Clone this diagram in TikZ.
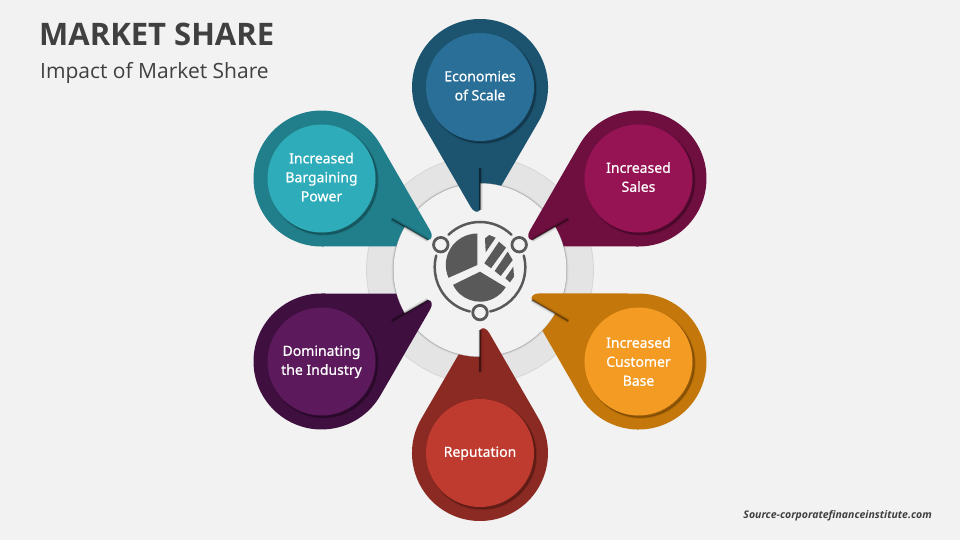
\documentclass[tikz,border=0pt]{standalone}
\usepackage{fontspec}
\setmainfont{Open Sans}
\newfontfamily\badgefont[FakeBold=0.7]{Noto Sans}
\usepackage{tikz}

\definecolor{PaperGray}{HTML}{F2F2F2}
\definecolor{RingGray}{HTML}{E4E4E4}
\definecolor{IconGray}{HTML}{595959}
\definecolor{TitleGray}{HTML}{404040}
\definecolor{BlueDark}{HTML}{1C5470}
\definecolor{BlueLight}{HTML}{296F98}
\definecolor{WineDark}{HTML}{6E0F40}
\definecolor{WineLight}{HTML}{961354}
\definecolor{AmberDark}{HTML}{C4770A}
\definecolor{AmberLight}{HTML}{F49B23}
\definecolor{RedDark}{HTML}{8B2A22}
\definecolor{RedLight}{HTML}{BF3A2F}
\definecolor{PlumDark}{HTML}{3F103F}
\definecolor{PlumLight}{HTML}{5C1A5C}
\definecolor{TealDark}{HTML}{217F8B}
\definecolor{TealLight}{HTML}{2EACB9}

\tikzset{
 softedge/.style={
  preaction={draw=black,fill=black,draw opacity=.05,fill opacity=.05,line width=3pt,transform canvas={shift={(2pt,-2pt)}}},
  preaction={draw=black,fill=black,draw opacity=.08,fill opacity=.08,line width=1.5pt,transform canvas={shift={(2pt,-2pt)}}},
  preaction={draw=black,fill=black,draw opacity=.12,fill opacity=.12,line width=.4pt,transform canvas={shift={(2pt,-2pt)}}}},
 hubedge/.style={
  preaction={draw=black,draw opacity=.05,line width=4pt},
  preaction={draw=black,draw opacity=.1,line width=2pt},
  preaction={draw=black,draw opacity=.14,line width=.8pt}},
 badge/.style={circle,minimum size=108pt,inner sep=0pt,align=center,text=white,softedge,
  font=\badgefont\fontsize{14}{19}\selectfont},
 iconline/.style={draw=IconGray,line width=2.5pt,line cap=round},
 iconknob/.style={circle,draw=IconGray,line width=2.8pt,minimum size=14.5pt,inner sep=0pt},
}

% pin pointing up from the hub: rotation, mirror, colour
\newcommand{\pinshape}[3]{
 \begin{scope}[xscale=#2,rotate=#1]
 \fill[#3] (58.9,149) arc (-30:210:68) -- (-9.3,63)
  .. controls (-7,58.5) and (-2,56.5) .. (0,60) -- (0,87) arc (90:75.8:87) -- cycle;
 \draw[black,opacity=.06,line width=5pt] (0,60) -- (0,102);
 \draw[black,opacity=.1,line width=3pt] (0,60) -- (0,102);
 \draw[black,opacity=.42,line width=1.2pt] (0,60) -- (0,102);
 \end{scope}
}
% badge text moved up or down a little
\newcommand{\badgelift}[2]{\raisebox{#1}{\begin{tabular}{@{}c@{}}#2\end{tabular}}}

\begin{document}
\begin{tikzpicture}[x=1pt,y=1pt]
\fill[PaperGray] (-480,-270) rectangle (480,270);
\useasboundingbox (-480,-270) rectangle (480,270);

% ring and hub
\fill[RingGray,draw=black!16,line width=.8pt] (0,0) circle (113.5);
\path[fill=PaperGray,hubedge] (0,0) circle (86.5);

\pinshape{0}{1}{BlueDark}
\pinshape{-60}{1}{WineDark}
\pinshape{-120}{1}{AmberDark}
\pinshape{180}{1}{RedDark}
\pinshape{120}{1}{PlumDark}
\pinshape{-60}{-1}{TealDark}

\node[badge,fill=BlueLight] (scale) at (90:183) {\badgelift{1pt}{Economies\\of Scale}};
\node[badge,fill=WineLight] (sales) at (30:183) {\badgelift{1pt}{Increased\\Sales}};
\node[badge,fill=AmberLight] (base) at (-30:183) {Increased\\Customer\\Base};
\node[badge,fill=RedLight] (reputation) at (-90:183) {\badgelift{-3pt}{Reputation}};
\node[badge,fill=PlumLight] (industry) at (210:183) {\badgelift{-3pt}{Dominating\\the Industry}};
\node[badge,fill=TealLight] (power) at (150:183) {\badgelift{1pt}{Increased\\Bargaining\\Power}};

% icon in the hub
\draw[iconline] (0,2.7) ++(46:45.3) arc (46:134:45.3);
\draw[iconline] (0,2.7) ++(165:45.3) arc (165:257:45.3);
\draw[iconline] (0,2.7) ++(-77:45.3) arc (-77:15:45.3);
\node[iconknob] (knobleft) at (-39.2,25.3) {};
\node[iconknob] (knobright) at (39.2,25.3) {};
\node[iconknob] (knobdown) at (0,-42.6) {};
\fill[IconGray] (-2.7,5) -- ++(90:31.5) arc (90:204:31.5) -- cycle;
\fill[IconGray] (0,-1.7) -- ++(206:30) arc (206:329:30) -- cycle;
\fill[IconGray] (5,31.7) -- (9.3,35) -- (15.7,32.3) -- (5.7,17.7) -- cycle;
\fill[IconGray] (19,28.3) -- (26,22.3) -- (11,1.7) -- (4.3,6.7) -- cycle;
\fill[IconGray] (27.7,18.3) -- (32.7,10) -- (20.7,-6) -- (14.7,-1) -- cycle;
\fill[IconGray] (33.3,3.3) -- (34,-6.7) -- (30,-12.3) -- (25.3,-8.3) -- cycle;

% headings
\node[anchor=west,inner sep=0pt,text=TitleGray,font=\bfseries\fontsize{31}{36}\selectfont] (title) at (-441,235.5) {MARKET SHARE};
\node[anchor=west,inner sep=0pt,text=TitleGray,font=\fontsize{21}{24}\selectfont] (subtitle) at (-440,197) {Impact of Market Share};
\node[anchor=east,inner sep=0pt,text=TitleGray,font=\bfseries\itshape\fontsize{10.5}{12}\selectfont] (source) at (452,-246) {Source-corporatefinanceinstitute.com};
\end{tikzpicture}
\end{document}
